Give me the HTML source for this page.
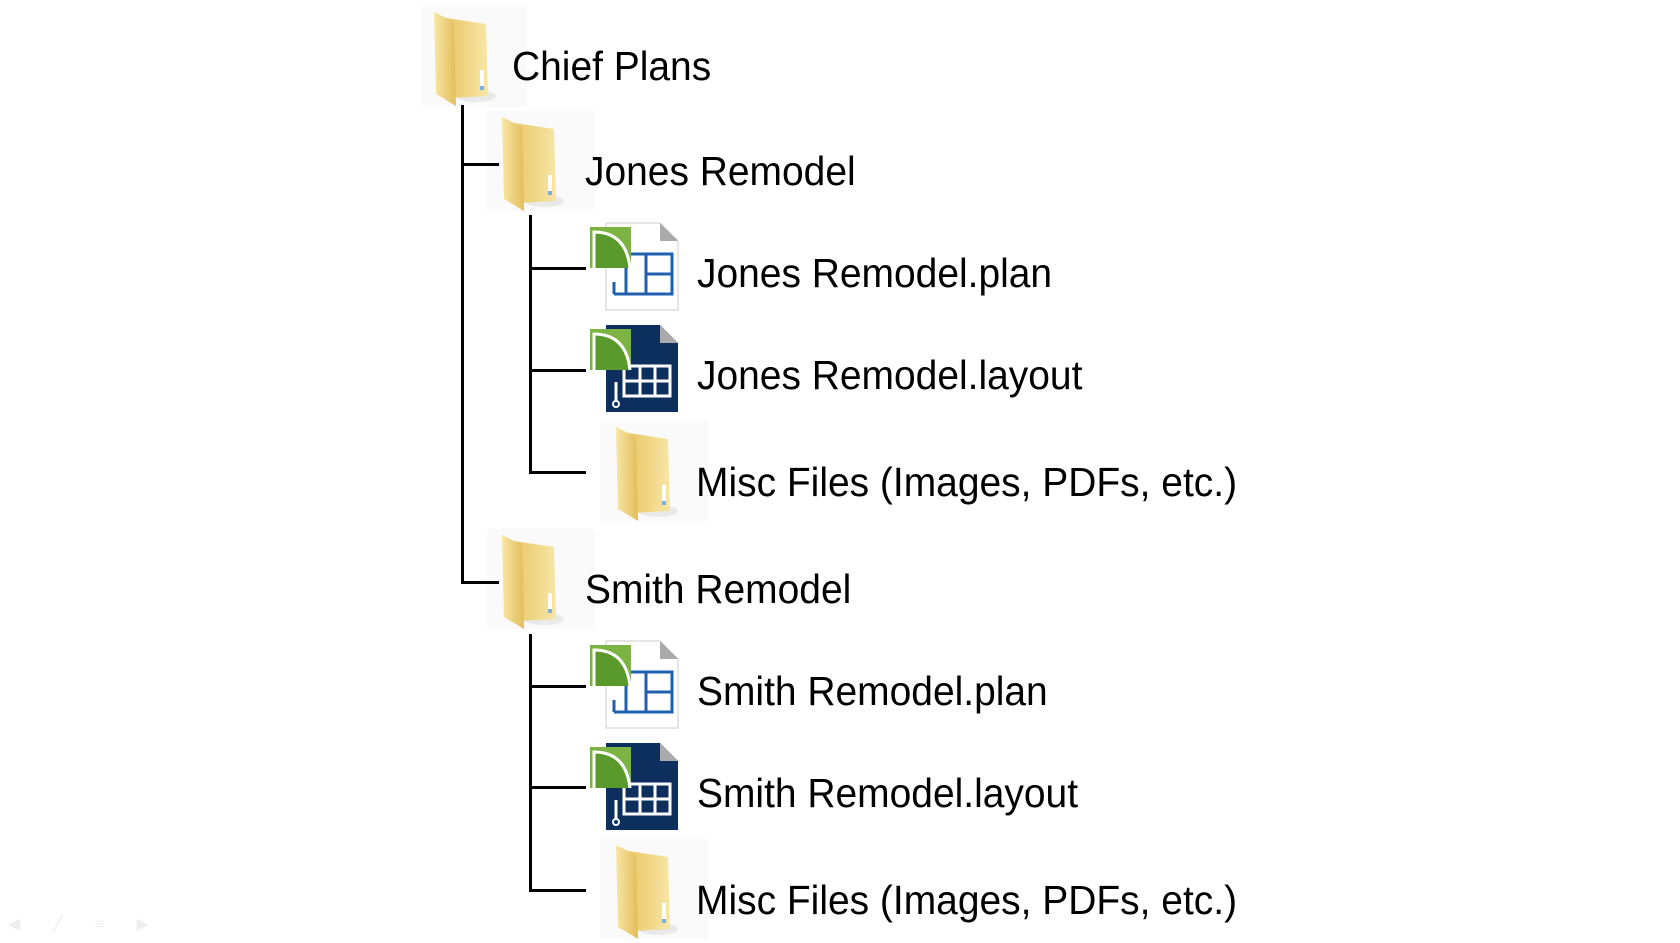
<!DOCTYPE html>
<html><head><meta charset="utf-8"><style>
html,body{margin:0;padding:0;background:#fff;}
body{width:1680px;height:943px;position:relative;overflow:hidden;font-family:"Liberation Sans",sans-serif;}
.t{position:absolute;font-size:41px;color:#000;white-space:nowrap;transform:scaleX(0.95);transform-origin:left center;line-height:48px;}
.l{position:absolute;background:#000;}
svg.i{position:absolute;}
.bg{position:absolute;background:#fafafa;}
</style></head><body>
<svg width="0" height="0" style="position:absolute">
<defs>
<linearGradient id="fb" x1="0" x2="1"><stop offset="0" stop-color="#e9c766"/><stop offset="1" stop-color="#f7e6a6"/></linearGradient>
<linearGradient id="ff" x1="0" x2="1"><stop offset="0" stop-color="#f8e7a4"/><stop offset="1" stop-color="#e2bd5a"/></linearGradient>
<symbol id="fold" viewBox="0 0 64 94">
<ellipse cx="44" cy="84" rx="20" ry="6" fill="#ddd" opacity=".6"/>
<polygon points="14,6 54,12 56,84 18,86" fill="url(#fb)"/>
<rect x="48" y="58" width="4" height="20" fill="#fff"/><rect x="48" y="74" width="4" height="4" fill="#7ab0e0"/>
<polygon points="2,0 22,10 24,94 4,82" fill="url(#ff)"/>
</symbol>
<symbol id="plan" viewBox="0 0 92 92">
<polygon points="16,1 70,1 88,19 88,88 16,88" fill="#fff" stroke="#ccc"/>
<polygon points="70,1 88,19 70,19" fill="#aaa"/>
<rect x="36" y="32" width="46" height="40" fill="none" stroke="#1f5fb0" stroke-width="3"/>
<line x1="56" y1="32" x2="56" y2="72" stroke="#1f5fb0" stroke-width="3"/>
<line x1="56" y1="52" x2="82" y2="52" stroke="#1f5fb0" stroke-width="3"/>
<line x1="24" y1="60" x2="24" y2="72" stroke="#1f5fb0" stroke-width="3"/>
<line x1="24" y1="72" x2="36" y2="72" stroke="#1f5fb0" stroke-width="3"/>
<rect x="0" y="5" width="41" height="41" fill="#7cb342"/>
<path d="M4 46 V10 Q36 10 40 46" fill="#5a9a2c" stroke="#fff" stroke-width="3"/>
</symbol>
<symbol id="lay" viewBox="0 0 92 92">
<polygon points="16,1 70,1 88,19 88,88 16,88" fill="#0d2f5e"/>
<polygon points="70,1 88,19 70,19" fill="#aaa"/>
<path d="M34 42 H80 V72 H34 Z M50 42 V72 M34 57 H80 M65 42 V72" fill="none" stroke="#fff" stroke-width="3"/>
<path d="M26 58 V78" stroke="#fff" stroke-width="3"/><circle cx="26" cy="80" r="3" fill="none" stroke="#fff" stroke-width="2"/>
<rect x="0" y="5" width="41" height="41" fill="#7cb342"/>
<path d="M4 46 V10 Q36 10 40 46" fill="#5a9a2c" stroke="#fff" stroke-width="3"/>
</symbol>
</defs></svg>

<div class="bg" style="left:421px;top:5px;width:106px;height:102px"></div>
<div class="bg" style="left:487px;top:111px;width:108px;height:100px"></div>
<div class="bg" style="left:600px;top:421px;width:108px;height:100px"></div>
<div class="bg" style="left:487px;top:529px;width:108px;height:100px"></div>
<div class="bg" style="left:600px;top:839px;width:108px;height:100px"></div>

<!-- lines -->
<div class="l" style="left:461px;top:105px;width:3px;height:479px"></div>
<div class="l" style="left:461px;top:163px;width:38px;height:3px"></div>
<div class="l" style="left:461px;top:581px;width:38px;height:3px"></div>
<div class="l" style="left:529px;top:215px;width:3px;height:258px"></div>
<div class="l" style="left:529px;top:267px;width:57px;height:3px"></div>
<div class="l" style="left:529px;top:369px;width:57px;height:3px"></div>
<div class="l" style="left:529px;top:471px;width:57px;height:3px"></div>
<div class="l" style="left:529px;top:634px;width:3px;height:257px"></div>
<div class="l" style="left:529px;top:685px;width:57px;height:3px"></div>
<div class="l" style="left:529px;top:786px;width:57px;height:3px"></div>
<div class="l" style="left:529px;top:889px;width:57px;height:3px"></div>

<!-- icons -->
<svg class="i" style="left:432px;top:12px" width="64" height="94"><use href="#fold"/></svg>
<svg class="i" style="left:500px;top:117px" width="64" height="94"><use href="#fold"/></svg>
<svg class="i" style="left:614px;top:427px" width="64" height="94"><use href="#fold"/></svg>
<svg class="i" style="left:500px;top:535px" width="64" height="94"><use href="#fold"/></svg>
<svg class="i" style="left:614px;top:845px" width="64" height="94"><use href="#fold"/></svg>
<svg class="i" style="left:590px;top:222px" width="92" height="92"><use href="#plan"/></svg>
<svg class="i" style="left:590px;top:324px" width="92" height="92"><use href="#lay"/></svg>
<svg class="i" style="left:590px;top:640px" width="92" height="92"><use href="#plan"/></svg>
<svg class="i" style="left:590px;top:742px" width="92" height="92"><use href="#lay"/></svg>

<!-- text -->
<div class="t" style="left:512px;top:42px">Chief Plans</div>
<div class="t" style="left:585px;top:147px">Jones Remodel</div>
<div class="t" style="left:697px;top:249px">Jones Remodel.plan</div>
<div class="t" style="left:697px;top:351px">Jones Remodel.layout</div>
<div class="t" style="left:696px;top:458px">Misc Files (Images, PDFs, etc.)</div>
<div class="t" style="left:585px;top:565px">Smith Remodel</div>
<div class="t" style="left:697px;top:667px">Smith Remodel.plan</div>
<div class="t" style="left:697px;top:769px">Smith Remodel.layout</div>
<div class="t" style="left:696px;top:876px">Misc Files (Images, PDFs, etc.)</div>

<!-- faint nav -->
<div style="position:absolute;left:8px;top:914px;color:#eee;font-size:16px;letter-spacing:14px">◀ ╱ ≡ ▶</div>
</body></html>
